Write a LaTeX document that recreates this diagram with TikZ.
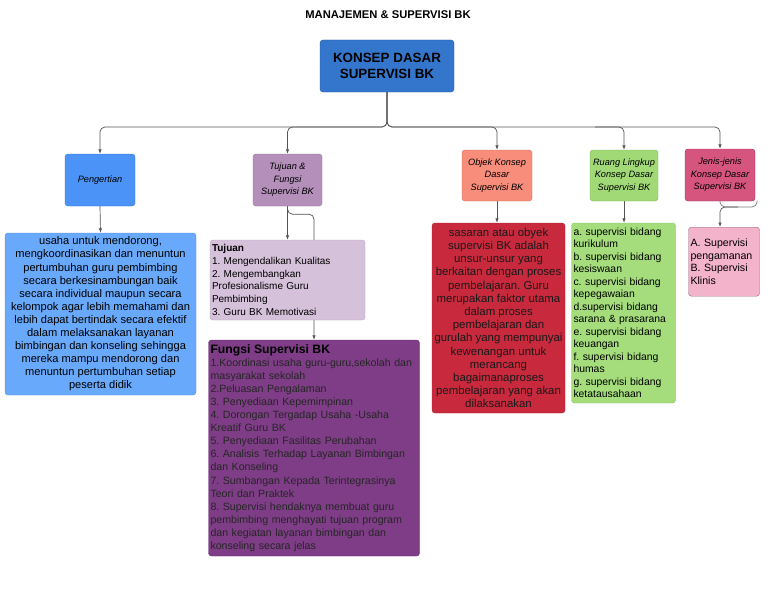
\documentclass[tikz,border=0pt]{standalone}
\usepackage{fontspec}
\setmainfont{Liberation Sans}
\usetikzlibrary{arrows.meta,backgrounds}
\frenchspacing
\definecolor{cBlue}{HTML}{3476CC}
\definecolor{cPeng}{HTML}{4B93F7}
\definecolor{cPengT}{HTML}{69A9FB}
\definecolor{cTF}{HTML}{B38FB9}
\definecolor{cTuj}{HTML}{D6C1DA}
\definecolor{cFun}{HTML}{7E3D86}
\definecolor{cObj}{HTML}{F88D7B}
\definecolor{cObjT}{HTML}{C8293D}
\definecolor{cRua}{HTML}{A1D977}
\definecolor{cRuaT}{HTML}{A5DD7C}
\definecolor{cJen}{HTML}{D6557F}
\definecolor{cJenT}{HTML}{F3B3CA}
\definecolor{cLine}{HTML}{7A7A7A}
\tikzset{
  box/.style={rounded corners=3pt, line width=0.4pt, inner sep=2pt, anchor=center},
  small/.style={box, font=\fontsize{9.2}{12.5}\selectfont\itshape, align=center},
  conn/.style={draw=cLine, line width=0.7pt, rounded corners=5pt},
  arr/.style={conn, -{Latex[length=4.5pt,width=3.5pt]}, color=cLine!70!black},
}
\begin{document}
\begin{tikzpicture}[x=1pt,y=-1pt]
\useasboundingbox (0,0) rectangle (768,594);
\begin{pgfonlayer}{background}
\fill[white] (0,0) rectangle (768,594);
\end{pgfonlayer}

\node[font=\fontsize{11.2}{13}\selectfont\bfseries] (title) at (388,15) {MANAJEMEN \& SUPERVISI BK};

\node[box, fill=cBlue, draw=cBlue!80!black, minimum width=134pt, minimum height=52pt,
  font=\fontsize{13.4}{16}\selectfont\bfseries, align=center] (root) at (387,66) {KONSEP DASAR\\SUPERVISI BK};

% level 1
\node[small, fill=cPeng, draw=cPeng!80!black, minimum width=70pt, minimum height=52pt] (peng) at (100,180) {Pengertian};
\node[small, fill=cTF, draw=cTF!80!black, minimum width=69pt, minimum height=52pt] (tf) at (287.5,180) {Tujuan \&\\Fungsi\\Supervisi BK};
\node[small, fill=cObj, draw=cObj!80!black, minimum width=70pt, minimum height=51pt] (obj) at (497,175.5) {Objek Konsep\\Dasar\\Supervisi BK};
\node[small, fill=cRua, draw=cRua!80!black, minimum width=68pt, minimum height=51pt] (rua) at (624,175.5) {Ruang Lingkup\\Konsep Dasar\\Supervisi BK};
\node[small, fill=cJen, draw=cJen!70!black, minimum width=70pt, minimum height=52pt] (jen) at (720,175) {Jenis-jenis\\Konsep Dasar\\Supervisi BK};

% level 2
\node[box, fill=cPengT, draw=cPengT!85!black, minimum width=191pt, minimum height=162pt,
  font=\fontsize{11.1}{13.1}\selectfont, align=center] (pengT) at (100.5,314) {usaha untuk mendorong,\\mengkoordinasikan dan menuntun\\pertumbuhan guru pembimbing\\secara berkesinambungan baik\\secara individual maupun secara\\kelompok agar lebih memahami dan\\lebih dapat bertindak secara efektif\\dalam melaksanakan layanan\\bimbingan dan konseling sehingga\\mereka mampu mendorong dan\\menuntun pertumbuhan setiap\\peserta didik};

\node[box, fill=cTuj, draw=cTuj!85!black, minimum width=155pt, minimum height=80pt,
  font=\fontsize{10}{12.8}\selectfont, align=left, text width=151pt] (tuj) at (287.5,280) {{\bfseries Tujuan}\\1. Mengendalikan Kualitas\\2. Mengembangkan\\Profesionalisme Guru\\Pembimbing\\3. Guru BK Memotivasi};

\node[box, fill=cFun, draw=cFun!85!black, minimum width=210pt, minimum height=216pt,
  font=\fontsize{10.6}{13.1}\selectfont, align=left, text width=207pt, text=black!85] (fun) at (314,448) {{\fontsize{12.2}{14}\selectfont\bfseries\color{black} Fungsi Supervisi BK}\\1.Koordinasi usaha guru-guru,sekolah dan\\masyarakat sekolah\\2.Peluasan Pengalaman\\3. Penyediaan Kepemimpinan\\4. Dorongan Tergadap Usaha -Usaha\\Kreatif Guru BK\\5. Penyediaan Fasilitas Perubahan\\6. Analisis Terhadap Layanan Bimbingan\\dan Konseling\\7. Sumbangan Kepada Terintegrasinya\\Teori dan Praktek\\8. Supervisi hendaknya membuat guru\\pembimbing menghayati tujuan program\\dan kegiatan layanan bimbingan dan\\konseling secara jelas};

\node[box, fill=cObjT, draw=cObjT!85!black, minimum width=133pt, minimum height=190pt,
  font=\fontsize{11.4}{13.2}\selectfont, align=center, text=black!90] (objT) at (498.5,318) {sasaran atau obyek\\supervisi BK adalah\\unsur-unsur yang\\berkaitan dengan proses\\pembelajaran. Guru\\merupakan faktor utama\\dalam proses\\pembelajaran dan\\gurulah yang mempunyai\\kewenangan untuk\\merancang\\bagaimanaproses\\pembelajaran yang akan\\dilaksanakan};

\node[box, fill=cRuaT, draw=cRuaT!85!black, minimum width=103pt, minimum height=180pt,
  font=\fontsize{10.4}{12.5}\selectfont, align=left, text width=100pt] (ruaT) at (623.5,313) {a. supervisi bidang\\kurikulum\\b. supervisi bidang\\kesiswaan\\c. supervisi bidang\\kepegawaian\\d.supervisi bidang\\sarana \& prasarana\\e. supervisi bidang\\keuangan\\f. supervisi bidang\\humas\\g. supervisi bidang\\ketatausahaan};

\node[box, fill=cJenT, draw=cJenT!60!black, minimum width=70pt, minimum height=69pt,
  font=\fontsize{10.6}{12.4}\selectfont, align=left, text width=67pt, anchor=north] (jenT) at (724,227) {A. Supervisi\\pengamanan\\B. Supervisi\\Klinis};

% connectors
\begin{pgfonlayer}{background}
\draw[arr] (root.south) -- (387,127) -| (peng.north);
\draw[arr] (root.south) -- (387,127) -| (tf.north);
\draw[arr] (root.south) -- (387,127) -| (obj.north);
\draw[arr] (595,127) -| (rua.north);
\draw[arr] (root.south) -- (387,127) -| (jen.north);
\draw[arr] (peng.south) -- (pengT.north);
\draw[arr] (tf.south) -- (tuj.north);
\draw[arr] (tf.south) -- ++(0,8) -| (fun.north);
\draw[arr] (obj.south) -- (objT.north -| obj.south);
\draw[arr] (rua.south) -- (ruaT.north -| rua.south);
\draw[conn] (jen.south) |- (757,207) -- (757,203);
\draw[arr] (738,207) -| (720,227);
\end{pgfonlayer}
\end{tikzpicture}
\end{document}
